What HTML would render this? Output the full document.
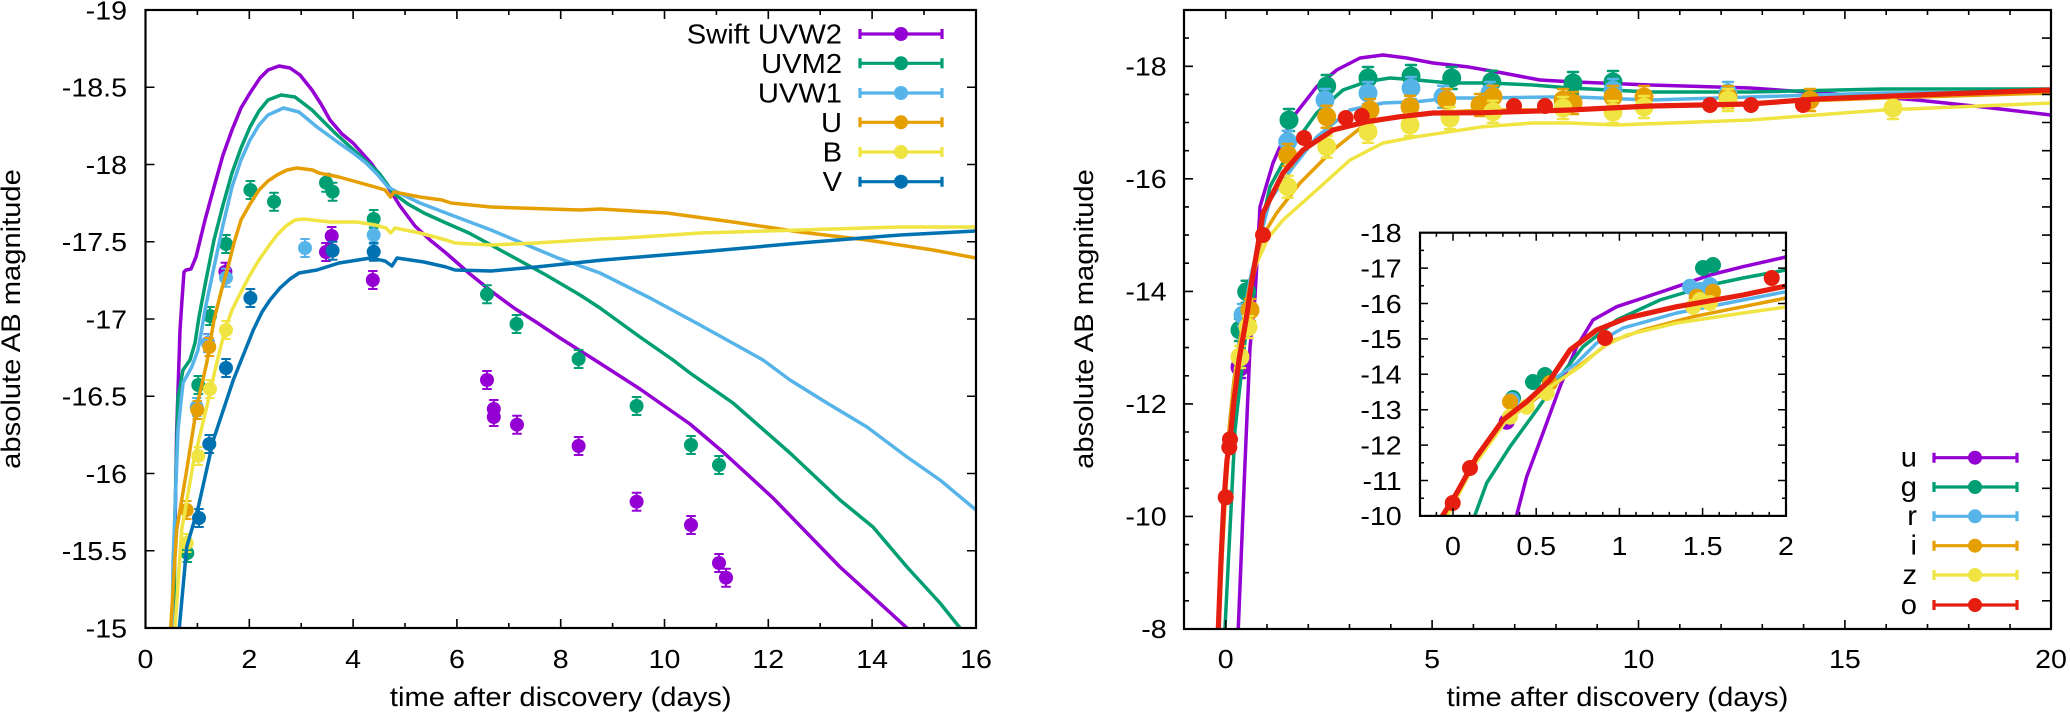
<!DOCTYPE html>
<html><head><meta charset="utf-8"><style>
html,body{margin:0;padding:0;background:#fff;}
svg{display:block;}
text{font-family:"Liberation Sans",Arial,sans-serif;fill:#000;}
</style></head><body>
<svg width="2070" height="719" viewBox="0 0 2070 719" xmlns="http://www.w3.org/2000/svg">
<defs>
<clipPath id="cl"><rect x="145.5" y="10" width="830.5" height="618"/></clipPath>
<clipPath id="cr"><rect x="1184" y="10" width="867" height="619"/></clipPath>
<clipPath id="ci"><rect x="1420" y="232.7" width="366" height="283.2"/></clipPath>
<g id="a"><path d="M0-9V9M-4-9H4M-4 9H4" stroke="currentColor" stroke-width="2" fill="none"/><circle r="7" fill="currentColor"/></g>
<g id="b"><path d="M0-11V11M-5-11H5M-5 11H5" stroke="currentColor" stroke-width="2.5" fill="none"/><circle r="9.5" fill="currentColor"/></g>
<g id="c"><circle r="8" fill="currentColor"/></g>
</defs>
<rect width="2070" height="719" fill="#fff"/>

<!-- ================= LEFT PANEL ================= -->
<g clip-path="url(#cl)" fill="none" stroke-width="3.5" stroke-linejoin="round" stroke-linecap="round">
<g color="#9400d3">
<use href="#a" x="208" y="343"/><use href="#a" x="225.4" y="271.7"/><use href="#a" x="331.7" y="236"/><use href="#a" x="326" y="252"/><use href="#a" x="372.8" y="280"/><use href="#a" x="487" y="380"/><use href="#a" x="493.8" y="409"/><use href="#a" x="493.8" y="417"/><use href="#a" x="517" y="424.7"/><use href="#a" x="578.6" y="446"/><use href="#a" x="636.6" y="501.7"/><use href="#a" x="691" y="525"/><use href="#a" x="719" y="563"/><use href="#a" x="726" y="577.7"/>
</g>
<polyline stroke="#9400d3" points="173.3,630 176.7,430 180,330 182,300 184,272 186,270 191,269 196,257 205,220 214,187 223,155 232,130 241,108 250,93 260,78 268,70 279,66 290,68 300,75 312,90 321,104 330,120 342,134 353,143 362,153 371,163 381,177 390,190 400,206 415,226 430,240 446,253 470,274 491,291 514,308 536,322 560,338 598,362 640,389 690,424 723,452 773,498 840,567 907,628 920,640"/>
<g color="#009e73">
<use href="#a" x="187.3" y="553"/><use href="#a" x="198.3" y="385"/><use href="#a" x="210" y="316"/><use href="#a" x="226" y="244"/><use href="#a" x="250.4" y="190"/><use href="#a" x="274" y="201.7"/><use href="#a" x="326" y="182.7"/><use href="#a" x="332.6" y="191.7"/><use href="#a" x="373.7" y="219"/><use href="#a" x="487" y="294.3"/><use href="#a" x="516.5" y="324"/><use href="#a" x="578.6" y="359"/><use href="#a" x="636.6" y="406"/><use href="#a" x="691" y="445"/><use href="#a" x="719" y="465"/>
</g>
<polyline stroke="#009e73" points="174,640 175,513 178,397 183,370 190,360 195,343 199,317 206,280 214,240 223,205 232,173 241,148 250,127 259,111 268,100 281,95 295,97 312,110 323,121 335,133 346,143 357,153 368,163 379,173 387,184 393,193 408,204 424,213 446,223 469,233 491,245 513,257 546,275 580,295 600,308 640,337 673,360 690,373 733,403 790,453 840,500 873,527 907,567 940,603 960,628 970,640"/>
<g color="#56b4e9">
<use href="#a" x="208" y="343.3"/><use href="#a" x="196.7" y="407"/><use href="#a" x="226" y="277.7"/><use href="#a" x="305" y="248"/><use href="#a" x="373.7" y="235"/>
</g>
<polyline stroke="#56b4e9" points="172,640 173,563 178,430 183,383 191.7,367 198,350 201.7,330 205,310 214,267 223,225 232,187 241,160 250,140 259,125 268,115 283.5,108 299,112 317,127 339,143 352,152 366,163 377,174 388,187 397,192 420,203 446,213 491,230 558,258 600,273 650,298 700,325 763,360 790,380 827,403 867,427 907,457 940,480 976,510"/>
<g color="#e69f00">
<use href="#a" x="209.3" y="347"/><use href="#a" x="197.3" y="410"/><use href="#a" x="186.7" y="510"/>
</g>
<polyline stroke="#e69f00" points="170.3,640 170.7,628 176.7,530 186.7,470 196.7,407 206.7,363 214,320 221,292 228,267 234,243 241,220 250,204 259,190 268,181 277,175 287,170 297,168 312.5,170 319,173 339,177 357,182 375,187 385,190 390.6,197 394,192 420,197 442,200 451,203 491,207 580,210 600,209 667,213 733,222 800,232 867,240 933,250 976,258"/>
<g color="#f0e442">
<use href="#a" x="226" y="330"/><use href="#a" x="210" y="389"/><use href="#a" x="198.3" y="456"/><use href="#a" x="186.7" y="543"/>
</g>
<polyline stroke="#f0e442" points="174.6,640 175,628 181.7,530 193.3,463 206.7,407 216.7,363 225,330 232,310 241,292 250,275 259,260 268,247 277,235 286,226 295,220 303.6,219 330,222 357,222 375,225 386,228 390.6,233 395,228 420,233 446,240 455,243 491,245 536,243 600,239 625,238 700,233 800,230 900,227 976,227"/>
<g color="#0072b2">
<use href="#a" x="226" y="368"/><use href="#a" x="209.3" y="444"/><use href="#a" x="199" y="518"/><use href="#a" x="250.4" y="298"/><use href="#a" x="332.6" y="250.7"/><use href="#a" x="373.7" y="251.7"/>
</g>
<polyline stroke="#0072b2" points="179,640 179.3,628 186.7,547 198.3,507 213.3,440 233.3,380 253.3,330 262,312 270,300 280,288 290,279 299,273 317,270 339,263 370.5,258 385,261 392,266 397,258 424,262 446,267 455,270 491,271 536,267 603,260 700,252 800,243 900,235 976,231"/>
</g>
<rect x="145.5" y="10" width="830.5" height="618" fill="none" stroke="#000" stroke-width="2.2"/>
<path fill="none" stroke="#000" stroke-width="1.6" d="
M249.3 628v-9M353.1 628v-9M456.9 628v-9M560.7 628v-9M664.5 628v-9M768.3 628v-9M872.1 628v-9
M197.4 628v-5M301.2 628v-5M405 628v-5M508.8 628v-5M612.6 628v-5M716.4 628v-5M820.2 628v-5M924 628v-5
M249.3 10v9M353.1 10v9M456.9 10v9M560.7 10v9M664.5 10v9M768.3 10v9M872.1 10v9
M197.4 10v5M301.2 10v5M405 10v5M508.8 10v5M612.6 10v5M716.4 10v5M820.2 10v5M924 10v5
M145.5 87.25h9M145.5 164.5h9M145.5 241.75h9M145.5 319h9M145.5 396.25h9M145.5 473.5h9M145.5 550.75h9
M976 87.25h-9M976 164.5h-9M976 241.75h-9M976 319h-9M976 396.25h-9M976 473.5h-9M976 550.75h-9"/>
<g font-size="26" text-anchor="end">
<text transform="translate(127,19.3) scale(1.1,1)">-19</text>
<text transform="translate(127,96.5) scale(1.1,1)">-18.5</text>
<text transform="translate(127,173.8) scale(1.1,1)">-18</text>
<text transform="translate(127,251) scale(1.1,1)">-17.5</text>
<text transform="translate(127,328.3) scale(1.1,1)">-17</text>
<text transform="translate(127,405.5) scale(1.1,1)">-16.5</text>
<text transform="translate(127,482.8) scale(1.1,1)">-16</text>
<text transform="translate(127,560) scale(1.1,1)">-15.5</text>
<text transform="translate(127,637.3) scale(1.1,1)">-15</text>
</g>
<g font-size="26" text-anchor="middle">
<text transform="translate(145.5,668) scale(1.1,1)">0</text>
<text transform="translate(249.3,668) scale(1.1,1)">2</text>
<text transform="translate(353.1,668) scale(1.1,1)">4</text>
<text transform="translate(456.9,668) scale(1.1,1)">6</text>
<text transform="translate(560.7,668) scale(1.1,1)">8</text>
<text transform="translate(664.5,668) scale(1.1,1)">10</text>
<text transform="translate(768.3,668) scale(1.1,1)">12</text>
<text transform="translate(872.1,668) scale(1.1,1)">14</text>
<text transform="translate(976,668) scale(1.1,1)">16</text>
<text transform="translate(560.7,706) scale(1.1,1)" font-size="26.5">time after discovery (days)</text>
<text transform="translate(20,319) rotate(-90) scale(1.1,1)" font-size="26.5">absolute AB magnitude</text>
</g>
<g font-size="28" text-anchor="end">
<text transform="translate(842,43.5) scale(1.04,1)">Swift UVW2</text>
<text transform="translate(842,73) scale(1.04,1)">UVM2</text>
<text transform="translate(842,102.5) scale(1.04,1)">UVW1</text>
<text transform="translate(842,132) scale(1.04,1)">U</text>
<text transform="translate(842,161.5) scale(1.04,1)">B</text>
<text transform="translate(842,191) scale(1.04,1)">V</text>
</g>
<g stroke-width="3.2" fill="none">
<path stroke="#9400d3" d="M860 34H942M860 29v10M942 29v10"/>
<path stroke="#009e73" d="M860 63.3H942M860 58.3v10M942 58.3v10"/>
<path stroke="#56b4e9" d="M860 93H942M860 88v10M942 88v10"/>
<path stroke="#e69f00" d="M860 122.3H942M860 117.3v10M942 117.3v10"/>
<path stroke="#f0e442" d="M860 152H942M860 147v10M942 147v10"/>
<path stroke="#0072b2" d="M860 181.7H942M860 176.7v10M942 176.7v10"/>
</g>
<circle cx="901" cy="34" r="7" fill="#9400d3"/>
<circle cx="901" cy="63.3" r="7" fill="#009e73"/>
<circle cx="901" cy="93" r="7" fill="#56b4e9"/>
<circle cx="901" cy="122.3" r="7" fill="#e69f00"/>
<circle cx="901" cy="152" r="7" fill="#f0e442"/>
<circle cx="901" cy="181.7" r="7" fill="#0072b2"/>

<!-- ================= RIGHT PANEL ================= -->
<g clip-path="url(#cr)" fill="none" stroke-width="3.5" stroke-linejoin="round" stroke-linecap="round">
<g color="#9400d3">
<use href="#b" x="1240" y="367"/>
</g>
<polyline stroke="#9400d3" points="1238.3,640 1238.3,628 1245,463 1250,347 1255,297 1260,206.7 1273,163 1293,117 1316.7,86.7 1336.7,70 1360,58 1383,55 1406.7,58 1433,63 1466.7,66.7 1503,73 1540,80 1570,81.7 1650,85 1750,88 1850,95 1917,100 1983,107 2051,115"/>
<g color="#009e73">
<use href="#b" x="1246.7" y="291.7"/><use href="#b" x="1240" y="330"/><use href="#b" x="1289" y="120"/><use href="#b" x="1326.7" y="86"/><use href="#b" x="1368" y="78"/><use href="#b" x="1411" y="76"/><use href="#b" x="1451.7" y="78"/><use href="#b" x="1491.7" y="81.7"/><use href="#b" x="1573" y="83"/><use href="#b" x="1613" y="82"/>
</g>
<polyline stroke="#009e73" points="1225,640 1225,628 1235,430 1241.7,370 1250,297 1258,240 1270,186.7 1290,150 1316.7,113 1343,90 1366.7,81.7 1390,78 1416.7,80 1450,83 1490,83 1533,85 1570,88 1650,92 1750,92 1883,89 2051,89"/>
<g color="#56b4e9">
<use href="#b" x="1243" y="315"/><use href="#b" x="1287.7" y="141.7"/><use href="#b" x="1325" y="100"/><use href="#b" x="1368" y="93"/><use href="#b" x="1411" y="88"/><use href="#b" x="1443" y="96.7"/><use href="#b" x="1490" y="93"/><use href="#b" x="1613" y="90"/><use href="#b" x="1728" y="93"/>
</g>
<polyline stroke="#56b4e9" points="1219,640 1219,629 1222,560 1226,480 1230,420 1234,380 1238,350 1243,320 1250,280 1258,245 1270,200 1293,167 1316.7,137 1350,110 1383,103 1416.7,101.7 1450,98 1483,98 1570,96.7 1650,100 1750,97 1883,93 2051,92"/>
<g color="#e69f00">
<use href="#b" x="1250" y="310"/><use href="#b" x="1287.7" y="155"/><use href="#b" x="1326.7" y="116.7"/><use href="#b" x="1370" y="110"/><use href="#b" x="1410" y="106.7"/><use href="#b" x="1446.7" y="100"/><use href="#b" x="1480" y="105"/><use href="#b" x="1493" y="96.7"/><use href="#b" x="1563" y="100"/><use href="#b" x="1573" y="103"/><use href="#b" x="1613" y="97"/><use href="#b" x="1644" y="97"/><use href="#b" x="1728" y="97"/><use href="#b" x="1810" y="100"/>
</g>
<polyline stroke="#e69f00" points="1218,640 1218,629 1221,560 1225,490 1229,430 1234,380 1240,340 1247,300 1255,260 1265,232 1276.7,213 1300,183 1333,150 1366.7,123 1400,116.7 1433,113 1483,110 1570,110 1650,107 1750,103 1883,98 2051,93"/>
<g color="#f0e442">
<use href="#b" x="1248" y="327"/><use href="#b" x="1240" y="357"/><use href="#b" x="1287.7" y="186.7"/><use href="#b" x="1326.7" y="146.7"/><use href="#b" x="1368" y="131.7"/><use href="#b" x="1410" y="125"/><use href="#b" x="1450" y="118"/><use href="#b" x="1493" y="111.7"/><use href="#b" x="1563" y="108"/><use href="#b" x="1613" y="112"/><use href="#b" x="1644" y="107"/><use href="#b" x="1728" y="100"/><use href="#b" x="1893" y="108"/>
</g>
<polyline stroke="#f0e442" points="1219,640 1219,629 1222,560 1226,490 1230,430 1235,380 1241,340 1248,300 1256,265 1268,238 1283,220 1316.7,190 1350,160 1383,143 1416.7,136.7 1450,131.7 1483,126.7 1533,123 1570,123 1617,125 1750,120 1883,110 2051,103"/>
<g color="#e51e10">
<use href="#c" x="1225.7" y="497.3"/><use href="#c" x="1229.3" y="447.3"/><use href="#c" x="1230" y="439.3"/><use href="#c" x="1263" y="235"/><use href="#c" x="1304" y="138"/><use href="#c" x="1345.7" y="118"/><use href="#c" x="1361.7" y="116"/><use href="#c" x="1514" y="106"/><use href="#c" x="1545" y="106"/><use href="#c" x="1710" y="105"/><use href="#c" x="1751" y="105"/><use href="#c" x="1803" y="105"/>
</g>
<polyline stroke="#e51e10" stroke-width="5.2" points="1218.3,640 1218.3,629 1221,560 1224,500 1227,460 1230,440 1234,400 1239,360 1246,320 1252,280 1258,245 1263,213 1283,173 1303,150 1333,130 1366.7,121.7 1400,116.7 1433,113 1483,112.7 1570,110 1650,106 1750,104 1817,99 1917,95 2051,90"/>
</g>
<rect x="1184" y="10" width="867" height="619" fill="none" stroke="#000" stroke-width="2.2"/>
<path fill="none" stroke="#000" stroke-width="1.6" d="
M1225.7 629v-9M1432.1 629v-9M1638.5 629v-9M1844.9 629v-9
M1267 629v-5M1308.3 629v-5M1349.5 629v-5M1390.8 629v-5M1473.4 629v-5M1514.7 629v-5M1556 629v-5M1597.2 629v-5M1679.8 629v-5M1721.1 629v-5M1762.3 629v-5M1803.6 629v-5M1886.2 629v-5M1927.5 629v-5M1968.7 629v-5M2010 629v-5
M1225.7 10v9M1432.1 10v9M1638.5 10v9M1844.9 10v9
M1267 10v5M1308.3 10v5M1349.5 10v5M1390.8 10v5M1473.4 10v5M1514.7 10v5M1556 10v5M1597.2 10v5M1679.8 10v5M1721.1 10v5M1762.3 10v5M1803.6 10v5M1886.2 10v5M1927.5 10v5M1968.7 10v5M2010 10v5
M1184 66.3h9M1184 178.8h9M1184 291.4h9M1184 403.9h9M1184 516.4h9
M1184 38.1h5M1184 94.4h5M1184 122.5h5M1184 150.7h5M1184 206.9h5M1184 235.1h5M1184 263.2h5M1184 319.5h5M1184 347.6h5M1184 375.8h5M1184 432h5M1184 460.2h5M1184 488.3h5M1184 544.6h5M1184 572.7h5M1184 600.8h5
M2051 66.3h-9M2051 178.8h-9M2051 291.4h-9M2051 403.9h-9M2051 516.4h-9
M2051 38.1h-9M2051 94.4h-9M2051 122.5h-9M2051 150.7h-9M2051 206.9h-9M2051 235.1h-9M2051 263.2h-9M2051 319.5h-9M2051 347.6h-9M2051 375.8h-9M2051 432h-9M2051 460.2h-9M2051 488.3h-9M2051 544.6h-9M2051 572.7h-9M2051 600.8h-9"/>
<g font-size="26" text-anchor="end">
<text transform="translate(1166.7,75.5) scale(1.1,1)">-18</text>
<text transform="translate(1166.7,188) scale(1.1,1)">-16</text>
<text transform="translate(1166.7,300.6) scale(1.1,1)">-14</text>
<text transform="translate(1166.7,413.1) scale(1.1,1)">-12</text>
<text transform="translate(1166.7,525.6) scale(1.1,1)">-10</text>
<text transform="translate(1166.7,638.2) scale(1.1,1)">-8</text>
</g>
<g font-size="26" text-anchor="middle">
<text transform="translate(1225.7,668) scale(1.1,1)">0</text>
<text transform="translate(1432.1,668) scale(1.1,1)">5</text>
<text transform="translate(1638.5,668) scale(1.1,1)">10</text>
<text transform="translate(1844.9,668) scale(1.1,1)">15</text>
<text transform="translate(2051,668) scale(1.1,1)">20</text>
<text transform="translate(1617.5,706) scale(1.1,1)" font-size="26.5">time after discovery (days)</text>
<text transform="translate(1093,319) rotate(-90) scale(1.1,1)" font-size="26.5">absolute AB magnitude</text>
</g>
<g font-size="28" text-anchor="end">
<text transform="translate(1917,466.5) scale(1.04,1)">u</text>
<text transform="translate(1917,495.8) scale(1.04,1)">g</text>
<text transform="translate(1917,525.1) scale(1.04,1)">r</text>
<text transform="translate(1917,554.5) scale(1.04,1)">i</text>
<text transform="translate(1917,583.8) scale(1.04,1)">z</text>
<text transform="translate(1917,613.8) scale(1.04,1)">o</text>
</g>
<g stroke-width="3.2" fill="none">
<path stroke="#9400d3" d="M1934 457.7H2017M1934 452.7v10M2017 452.7v10"/>
<path stroke="#009e73" d="M1934 487H2017M1934 482v10M2017 482v10"/>
<path stroke="#56b4e9" d="M1934 516.3H2017M1934 511.3v10M2017 511.3v10"/>
<path stroke="#e69f00" d="M1934 545.7H2017M1934 540.7v10M2017 540.7v10"/>
<path stroke="#f0e442" d="M1934 575H2017M1934 570v10M2017 570v10"/>
<path stroke="#e51e10" d="M1934 605H2017M1934 600v10M2017 600v10"/>
</g>
<circle cx="1975" cy="457.7" r="7" fill="#9400d3"/>
<circle cx="1975" cy="487" r="7" fill="#009e73"/>
<circle cx="1975" cy="516.3" r="7" fill="#56b4e9"/>
<circle cx="1975" cy="545.7" r="7" fill="#e69f00"/>
<circle cx="1975" cy="575" r="7" fill="#f0e442"/>
<circle cx="1975" cy="605" r="7" fill="#e51e10"/>

<!-- ================= INSET ================= -->
<rect x="1420" y="232.7" width="366" height="283.2" fill="#fff"/>
<g clip-path="url(#ci)" fill="none" stroke-width="3.5" stroke-linejoin="round" stroke-linecap="round">
<g color="#9400d3"><use href="#c" x="1506.7" y="421.7"/></g>
<polyline stroke="#9400d3" points="1516.7,520 1516.7,515 1526.7,476.7 1543,433 1560,386.7 1576.7,346.7 1593,320 1616.7,306.7 1643,298 1676.7,286.7 1710,275 1743,266.7 1786,257"/>
<g color="#009e73"><use href="#c" x="1513" y="398"/><use href="#c" x="1533" y="382"/><use href="#c" x="1545" y="375"/><use href="#c" x="1703" y="268"/><use href="#c" x="1713" y="265"/></g>
<polyline stroke="#009e73" points="1474,520 1475,515 1486.7,483 1510,446.7 1536.7,410 1560,376.7 1583,346.7 1616.7,320 1660,300 1710,285 1743,278 1786,270"/>
<g color="#56b4e9"><use href="#c" x="1512" y="400"/><use href="#c" x="1690" y="286.7"/><use href="#c" x="1710" y="285"/><use href="#c" x="1700" y="290"/></g>
<polyline stroke="#56b4e9" points="1445,520 1446.7,515 1470,470 1503,423 1530,401.7 1553,380 1576.7,363 1596.7,343 1623,328 1676.7,313 1743,300 1786,291.7"/>
<g color="#e69f00"><use href="#c" x="1510" y="401.7"/><use href="#c" x="1550" y="383"/><use href="#c" x="1696.7" y="296.7"/><use href="#c" x="1713" y="291.7"/></g>
<polyline stroke="#e69f00" points="1443,520 1445,515 1470,466.7 1503,423 1530,403 1556.7,383 1583,363 1610,341.7 1643,330 1693,316.7 1743,306.7 1786,298"/>
<g color="#f0e442"><use href="#c" x="1510" y="416.7"/><use href="#c" x="1526.7" y="406.7"/><use href="#c" x="1546.7" y="393"/><use href="#c" x="1693" y="306.7"/><use href="#c" x="1710" y="303"/><use href="#c" x="1700" y="300"/></g>
<polyline stroke="#f0e442" points="1446,520 1448,515 1473,466.7 1506.7,420 1536.7,396.7 1560,380 1580,366.7 1603,346.7 1626.7,335 1676.7,323 1743,313 1786,307"/>
<g color="#e51e10"><use href="#c" x="1452.7" y="503"/><use href="#c" x="1470" y="468"/><use href="#c" x="1605" y="338"/><use href="#c" x="1771.7" y="278"/></g>
<polyline stroke="#e51e10" stroke-width="5.2" points="1441,520 1443,515 1456.7,493 1476.7,456.7 1503,420 1526.7,401.7 1550,380 1570,350 1596.7,330 1626.7,318 1676.7,306.7 1743,295 1786,286"/>
</g>
<rect x="1420" y="232.7" width="366" height="283.2" fill="none" stroke="#000" stroke-width="2.2"/>
<path fill="none" stroke="#000" stroke-width="1.5" d="
M1453 515.9v-8M1536.2 515.9v-8M1619.4 515.9v-8M1702.6 515.9v-8
M1436.4 515.9v-4M1469.6 515.9v-4M1486.3 515.9v-4M1502.9 515.9v-4M1519.6 515.9v-4M1552.8 515.9v-4M1569.5 515.9v-4M1586.1 515.9v-4M1602.8 515.9v-4M1636 515.9v-4M1652.7 515.9v-4M1669.3 515.9v-4M1686 515.9v-4M1719.2 515.9v-4M1735.9 515.9v-4M1752.5 515.9v-4M1769.2 515.9v-4
M1453 232.7v8M1536.2 232.7v8M1619.4 232.7v8M1702.6 232.7v8
M1436.4 232.7v4M1469.6 232.7v4M1486.3 232.7v4M1502.9 232.7v4M1519.6 232.7v4M1552.8 232.7v4M1569.5 232.7v4M1586.1 232.7v4M1602.8 232.7v4M1636 232.7v4M1652.7 232.7v4M1669.3 232.7v4M1686 232.7v4M1719.2 232.7v4M1735.9 232.7v4M1752.5 232.7v4M1769.2 232.7v4
M1420 268.1h8M1420 303.5h8M1420 338.9h8M1420 374.3h8M1420 409.7h8M1420 445.1h8M1420 480.5h8
M1420 250.4h4M1420 285.8h4M1420 321.2h4M1420 356.6h4M1420 392h4M1420 427.4h4M1420 462.8h4M1420 498.2h4
M1786 268.1h-8M1786 303.5h-8M1786 338.9h-8M1786 374.3h-8M1786 409.7h-8M1786 445.1h-8M1786 480.5h-8
M1786 250.4h-4M1786 285.8h-4M1786 321.2h-4M1786 356.6h-4M1786 392h-4M1786 427.4h-4M1786 462.8h-4M1786 498.2h-4"/>
<g font-size="26" text-anchor="end">
<text transform="translate(1401.7,242) scale(1.1,1)">-18</text>
<text transform="translate(1401.7,277.4) scale(1.1,1)">-17</text>
<text transform="translate(1401.7,312.8) scale(1.1,1)">-16</text>
<text transform="translate(1401.7,348.2) scale(1.1,1)">-15</text>
<text transform="translate(1401.7,383.6) scale(1.1,1)">-14</text>
<text transform="translate(1401.7,419) scale(1.1,1)">-13</text>
<text transform="translate(1401.7,454.4) scale(1.1,1)">-12</text>
<text transform="translate(1401.7,489.8) scale(1.1,1)">-11</text>
<text transform="translate(1401.7,525.2) scale(1.1,1)">-10</text>
</g>
<g font-size="26" text-anchor="middle">
<text transform="translate(1453,555) scale(1.1,1)">0</text>
<text transform="translate(1536.2,555) scale(1.1,1)">0.5</text>
<text transform="translate(1619.4,555) scale(1.1,1)">1</text>
<text transform="translate(1702.6,555) scale(1.1,1)">1.5</text>
<text transform="translate(1786,555) scale(1.1,1)">2</text>
</g>
</svg>
</body></html>
